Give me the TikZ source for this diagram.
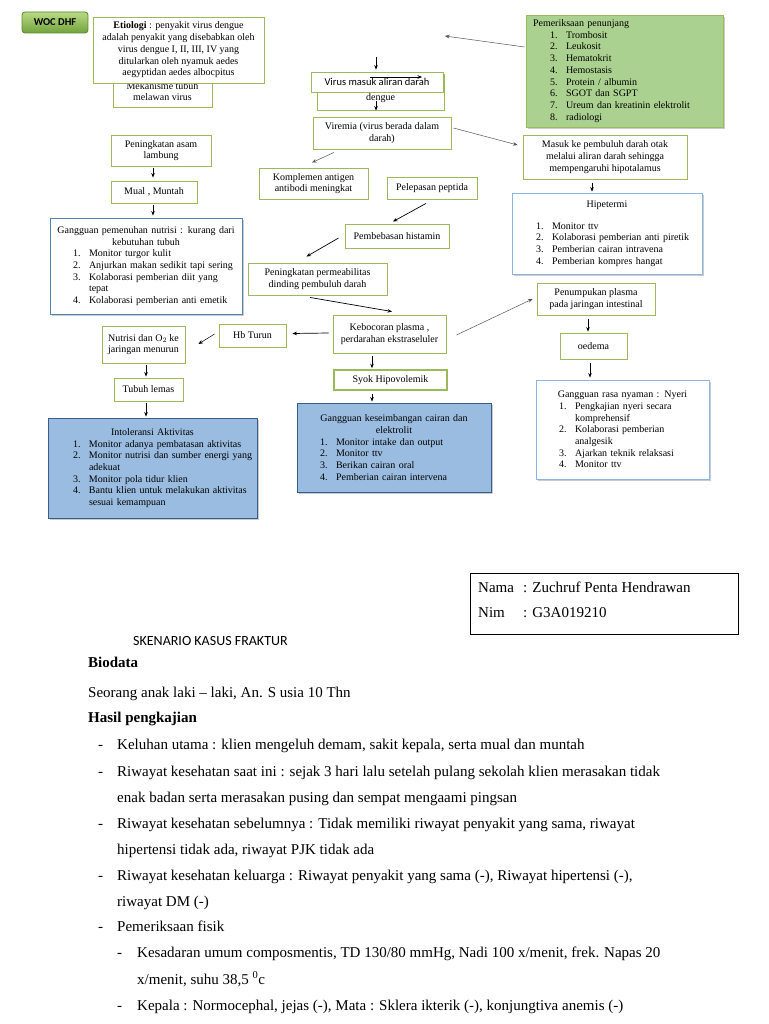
\documentclass[tikz,border=0pt]{standalone}
\usepackage{fontspec}
\setmainfont{Liberation Serif}
\newfontfamily\sansfam{Carlito}
\usetikzlibrary{arrows.meta,shadows}
\definecolor{boxgreen}{HTML}{9BBB59}
\definecolor{checkfill}{HTML}{AAD18F}
\definecolor{boxblue}{HTML}{4F81BD}
\definecolor{boxlight}{HTML}{8EB4E3}
\definecolor{boxnavy}{HTML}{385D8A}
\definecolor{boxfill}{HTML}{9ABCE0}
\definecolor{arrgray}{HTML}{555555}
\definecolor{woctop}{HTML}{B8DA84}
\definecolor{wocbot}{HTML}{73A33D}
\definecolor{wocline}{HTML}{5A8731}
\newcommand\num[1]{\makebox[16pt][l]{#1.}}

\begin{document}
\begin{tikzpicture}[x=1pt,y=-1pt,>={Stealth[length=4.5pt,width=3.6pt]},
	gbox/.style={draw=boxgreen,line width=0.9pt,fill=white,align=center,inner sep=1pt,font=\fontsize{10}{11.7}\selectfont},
	lbox/.style={line width=0.9pt,align=left,inner xsep=0pt,inner ysep=2pt,font=\fontsize{10}{11.7}\selectfont,drop shadow={shadow xshift=2pt,shadow yshift=-2pt,fill=black!40}},
	wbox/.style={lbox,draw=boxblue,fill=white},
	bbox/.style={lbox,draw=boxnavy,fill=boxfill},
	arr/.style={->,line width=0.7pt},
	garr/.style={->,line width=0.5pt,draw=arrgray},
	doc/.style={anchor=base west,inner sep=0pt,font=\fontsize{15}{18}\selectfont}]
	\useasboundingbox[fill=white] (0,0) rectangle (768,1024);
	\node[draw=wocline,line width=0.8pt,rounded corners=3pt,top color=woctop,bottom color=wocbot,minimum width=66pt,minimum height=21pt,font=\sansfam\bfseries\fontsize{10.5}{12}\selectfont] (woc) at (55,22.5) {WOC DHF};
	\node[gbox,minimum width=99pt,minimum height=31pt] (mekanisme) at (162.5,91.5) {Mekanisme tubuh\\melawan virus};
	\node[gbox,minimum width=171pt,minimum height=66pt] (etiologi) at (178.5,50) {\textbf{Etiologi} : penyakit virus dengue\\adalah penyakit yang disebabkan oleh\\virus dengue I, II, III, IV yang\\ditularkan oleh nyamuk aedes\\aegyptidan aedes albocpitus};
	\node[gbox,minimum width=127pt,minimum height=36pt] (virus2) at (380.5,92) {\strut\\[1pt]dengue\strut};
	\node[gbox,minimum width=132pt,minimum height=20pt,font=\sansfam\fontsize{10.5}{12}\selectfont] (virus1) at (377,82) {Virus masuk aliran darah};
	\node[gbox,minimum width=138pt,minimum height=32pt] (viremia) at (382,133) {Viremia (virus berada dalam\\darah)};
	\node[gbox,minimum width=109pt,minimum height=31pt] (komplemen) at (313.5,183.5) {Komplemen antigen\\antibodi meningkat};
	\node[gbox,minimum width=90pt,minimum height=22pt] (peptida) at (432,188) {Pelepasan peptida};
	\node[gbox,minimum width=104pt,minimum height=24pt] (histamin) at (397,236) {Pembebasan histamin};
	\node[gbox,minimum width=139pt,minimum height=32pt] (permeab) at (317.5,279) {Peningkatan permeabilitas\\dinding pembuluh darah};
	\node[gbox,minimum width=113pt,minimum height=38pt] (bocor) at (389.5,334) {Kebocoran plasma ,\\perdarahan ekstraseluler};
	\node[gbox,line width=1.6pt,minimum width=113pt,minimum height=20pt] (syok) at (390.5,380) {Syok Hipovolemik};
	\node[bbox,text width=194pt,minimum height=89pt] (cairan) at (394,447.5) {\makebox[194pt]{Gangguan keseimbangan cairan dan}\\
		\makebox[194pt]{elektrolit}\\
		\hspace*{23pt}\num{1}Monitor intake dan output\\
		\hspace*{23pt}\num{2}Monitor ttv\\
		\hspace*{23pt}\num{3}Berikan cairan oral\\
		\hspace*{23pt}\num{4}Pemberian cairan intervena};
	\node[gbox,minimum width=67pt,minimum height=23pt] (hb) at (252.5,335.5) {Hb Turun};
	\node[gbox,minimum width=83pt,minimum height=37pt] (nutrisi) at (143.5,344.5) {Nutrisi dan O$_2$ ke\\jaringan menurun};
	\node[gbox,minimum width=69pt,minimum height=23pt] (lemas) at (148.5,389.5) {Tubuh lemas};
	\node[bbox,text width=209pt,minimum height=100pt] (aktivitas) at (152.5,468) {\makebox[209pt]{Intoleransi Aktivitas}\\
		\hspace*{25pt}\num{1}Monitor adanya pembatasan aktivitas\\
		\hspace*{25pt}\num{2}Monitor nutrisi dan sumber energi yang\\
		\hspace*{41pt}adekuat\\
		\hspace*{25pt}\num{3}Monitor pola tidur klien\\
		\hspace*{25pt}\num{4}Bantu klien untuk melakukan aktivitas\\
		\hspace*{41pt}sesuai kemampuan};
	\node[gbox,minimum width=100pt,minimum height=31pt] (asam) at (161,150.5) {Peningkatan asam\\lambung};
	\node[gbox,minimum width=86pt,minimum height=22pt] (mual) at (154,192) {Mual , Muntah};
	\node[wbox,text width=192pt,minimum height=96pt] (nutrisidiag) at (146,266) {\makebox[192pt]{Gangguan pemenuhan nutrisi : kurang dari}\\
		\makebox[192pt]{kebutuhan tubuh}\\
		\hspace*{23pt}\num{1}Monitor turgor kulit\\
		\hspace*{23pt}\num{2}Anjurkan makan sedikit tapi sering\\
		\hspace*{23pt}\num{3}Kolaborasi pemberian diit yang\\
		\hspace*{39pt}tepat\\
		\hspace*{23pt}\num{4}Kolaborasi pemberian anti emetik};
	\node[lbox,draw=boxgreen,fill=checkfill,text width=197pt,minimum height=112pt] (periksa) at (624.5,71) {\hspace*{7pt}Pemeriksaan penunjang\\
		\hspace*{24pt}\num{1}Trombosit\\
		\hspace*{24pt}\num{2}Leukosit\\
		\hspace*{24pt}\num{3}Hematokrit\\
		\hspace*{24pt}\num{4}Hemostasis\\
		\hspace*{24pt}\num{5}Protein / albumin\\
		\hspace*{24pt}\num{6}SGOT dan SGPT\\
		\hspace*{24pt}\num{7}Ureum dan kreatinin elektrolit\\
		\hspace*{24pt}\num{8}radiologi};
	\node[gbox,minimum width=164pt,minimum height=44pt] (otak) at (605,157) {Masuk ke pembuluh darah otak\\melalui aliran darah sehingga\\mempengaruhi hipotalamus};
	\node[lbox,draw=boxlight,fill=white,text width=190pt,minimum height=81pt] (hipertermi) at (607,233.5) {\makebox[190pt]{Hipetermi}\\[10pt]
		\hspace*{24pt}\num{1}Monitor ttv\\
		\hspace*{24pt}\num{2}Kolaborasi pemberian anti piretik\\
		\hspace*{24pt}\num{3}Pemberian cairan intravena\\
		\hspace*{24pt}\num{4}Pemberian kompres hangat};
	\node[gbox,minimum width=118pt,minimum height=32pt] (plasma) at (596,299) {Penumpukan plasma\\pada jaringan intestinal};
	\node[gbox,minimum width=67pt,minimum height=26pt] (oedema) at (593.5,346) {oedema};
	\node[lbox,draw=boxlight,fill=white,text width=173pt,minimum height=99pt] (nyeri) at (622.5,429.5) {\makebox[173pt]{Gangguan rasa nyaman : Nyeri}\\
		\hspace*{23pt}\num{1}Pengkajian nyeri secara\\
		\hspace*{39pt}komprehensif\\
		\hspace*{23pt}\num{2}Kolaborasi pemberian\\
		\hspace*{39pt}analgesik\\
		\hspace*{23pt}\num{3}Ajarkan teknik relaksasi\\
		\hspace*{23pt}\num{4}Monitor ttv};
	\coordinate (top) at (376,57);
	\coordinate (free) at (445,36);
	\draw[arr] (top) -- ([shift={(-1,-2)}]virus1.north);
	\draw[arr] ([shift={(-7,-5)}]virus1.center) -- ([shift={(45,-5)}]virus1.center);
	\draw[arr] ([shift={(-4.5,9)}]virus2.center) -- ([shift={(-6,-6)}]viremia.north);
	\draw[garr] ([shift={(-48,3)}]viremia.south) -- ([shift={(-1.5,-5)}]komplemen.north);
	\draw[garr] ([shift={(2,-5)}]viremia.east) -- ([shift={(-5,-12)}]otak.west);
	\draw[garr] ([shift={(-1,-24)}]periksa.west) -- (free);
	\draw[arr] ([shift={(-6,4)}]peptida.south) -- ([shift={(-4,-2)}]histamin.north);
	\draw[arr] ([shift={(-6,2)}]histamin.west) -- ([shift={(-11,-6)}]permeab.north);
	\draw[arr] ([shift={(-7.5,2)}]permeab.south) -- ([shift={(2.5,-3)}]bocor.north);
	\draw[arr] ([shift={(-4,-1)}]bocor.west) -- ([shift={(6,-2)}]hb.east);
	\draw[arr,line width=0.5pt] ([shift={(-4,-1.5)}]hb.west) -- ([shift={(13,-0.5)}]nutrisi.east);
	\draw[garr] ([shift={(10,1)}]bocor.east) -- ([shift={(-4,0)}]plasma.west);
	\draw[arr] ([shift={(-8,2)}]asam.south) -- ([shift={(-1,-3)}]mual.north);
	\draw[arr] ([shift={(-1,2)}]mual.south) -- ([shift={(7,-2)}]nutrisidiag.north);
	\draw[arr] ([shift={(2.5,2)}]nutrisi.south) -- ([shift={(-2.5,-1)}]lemas.north);
	\draw[arr] ([shift={(-2.5,2)}]lemas.south) -- ([shift={(-6.5,-1)}]aktivitas.north);
	\draw[arr] ([shift={(-17.5,3)}]bocor.south) -- ([shift={(-18.5,-1)}]syok.north);
	\draw[arr] ([shift={(-18.5,3)}]syok.south) -- ([shift={(-22,-1)}]cairan.north);
	\draw[arr] ([shift={(-13,4)}]otak.south) -- ([shift={(-15,-1)}]hipertermi.north);
	\draw[arr] ([shift={(-8,4)}]plasma.south) -- ([shift={(-5.5,-1)}]oedema.north);
	\draw[arr] ([shift={(-3.5,4)}]oedema.south) -- ([shift={(-32.5,-2)}]nyeri.north);
	\node[draw=black,line width=1pt,minimum width=268pt,minimum height=61pt] (identitas) at (604,603.5) {};
	\node[doc] (nama) at (478,592) {Nama};
	\node[doc] (namaisi) at (523,592) {: Zuchruf Penta Hendrawan};
	\node[doc] (nim) at (478,617) {Nim};
	\node[doc] (nimisi) at (523,617) {: G3A019210};
	\node[doc,font=\sansfam\fontsize{14}{16}\selectfont] (judul) at (133,645.5) {SKENARIO KASUS FRAKTUR};
	\node[doc,font=\bfseries\fontsize{15}{18}\selectfont] (biodata) at (88,667) {Biodata};
	\node[doc] (anak) at (88,697) {Seorang anak laki -- laki, An. S usia 10 Thn};
	\node[doc,font=\bfseries\fontsize{15}{18}\selectfont] (hasil) at (88,722) {Hasil pengkajian};
	\node[doc] at (98,749) {-};
	\node[doc] (keluhan) at (117,749) {Keluhan utama : klien mengeluh demam, sakit kepala, serta mual dan muntah};
	\node[doc] at (98,776) {-};
	\node[doc] (rsekarang) at (117,776) {Riwayat kesehatan saat ini : sejak 3 hari lalu setelah pulang sekolah klien merasakan tidak};
	\node[doc] (rsekarang2) at (117,802) {enak badan serta merasakan pusing dan sempat mengaami pingsan};
	\node[doc] at (98,828) {-};
	\node[doc] (rdahulu) at (117,828) {Riwayat kesehatan sebelumnya : Tidak memiliki riwayat penyakit yang sama, riwayat};
	\node[doc] (rdahulu2) at (117,854) {hipertensi tidak ada, riwayat PJK tidak ada};
	\node[doc] at (98,880) {-};
	\node[doc] (rkeluarga) at (117,880) {Riwayat kesehatan keluarga : Riwayat penyakit yang sama (-), Riwayat hipertensi (-),};
	\node[doc] (rkeluarga2) at (117,906) {riwayat DM (-)};
	\node[doc] at (98,931) {-};
	\node[doc] (fisik) at (117,931) {Pemeriksaan fisik};
	\node[doc] at (117,957) {-};
	\node[doc] (ttv) at (137,957) {Kesadaran umum composmentis, TD 130/80 mmHg, Nadi 100 x/menit, frek. Napas 20};
	\node[doc] (ttv2) at (137,984) {x/menit, suhu 38,5 \textsuperscript{0}c};
	\node[doc] at (117,1010) {-};
	\node[doc] (kepala) at (137,1010) {Kepala : Normocephal, jejas (-), Mata : Sklera ikterik (-), konjungtiva anemis (-)};
\end{tikzpicture}
\end{document}
